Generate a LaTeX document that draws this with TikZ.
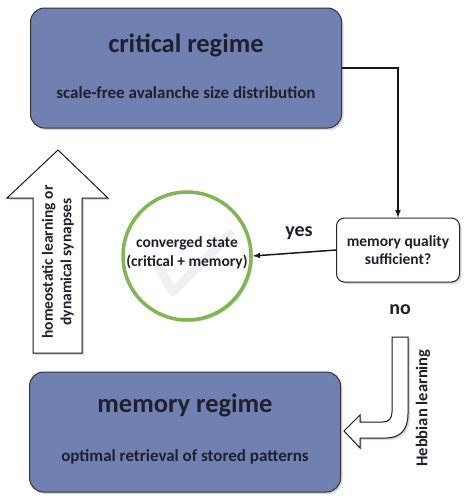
\documentclass[tikz,border=0pt]{standalone}
\usepackage{fontspec}
\setmainfont{Carlito}
\usetikzlibrary{shadows}
\definecolor{regimeblue}{RGB}{112,128,176}
\definecolor{textdark}{RGB}{32,32,45}
\definecolor{convgreen}{RGB}{128,182,78}

\begin{document}
\begin{tikzpicture}[x=1pt,y=-1pt,font=\bfseries,text=textdark,
  softshadow/.style={drop shadow={opacity=0.3,shadow xshift=2pt,shadow yshift=-2pt}},
  regimebox/.style={draw=black!80,line width=1pt,fill=regimeblue,rounded corners=14pt,
    minimum width=311pt,minimum height=120pt,softshadow},
  regimetitle/.style={font=\fontsize{26.5}{30}\selectfont\bfseries},
  regimetext/.style={font=\fontsize{17}{20}\selectfont\bfseries},
  smalltext/.style={font=\fontsize{15.5}{18.5}\selectfont\bfseries,align=center},
  flow/.style={-latex,line width=1.5pt,black!90},
  bigarrow/.style={draw=black!90,line width=1pt,fill=white,softshadow}]
\useasboundingbox (0,0) rectangle (474,504);

\node[regimebox] (crit) at (186,68) {};
\node[regimetitle] (crittitle) at (186,45) {critical regime};
\node[regimetext] (crittext) at (186,93) {scale-free avalanche size distribution};

\node[regimebox] (mem) at (185,432) {};
\node[regimetitle] (memtitle) at (185,405) {memory regime};
\node[regimetext] (memtext) at (185,457) {optimal retrieval of stored patterns};

\node[draw=black!85,line width=1pt,fill=white,rounded corners=8pt,minimum width=123pt,
  minimum height=64pt,softshadow,smalltext] (quality) at (398,250)
  {memory quality\\sufficient?};

\node[circle,draw=convgreen,line width=3.5pt,fill=white,minimum size=128pt,softshadow] (conv) at (187,256) {};
\draw[black!6,line width=9pt,line cap=round,line join=round] (158,266) -- (173,292) -- (230,234);
\node[smalltext] (convtext) at (187,253) {converged state\\(critical + memory)};

\draw[flow] (crit.east) -| (quality.north);
\draw[flow] (quality.west) -- (conv.east);
\node[font=\fontsize{20}{24}\selectfont\bfseries] (yes) at (299,233) {yes};
\node[font=\fontsize{20}{24}\selectfont\bfseries] (no) at (400,310) {no};

\draw[bigarrow] (58,150) -- (108,198) -- (82,198) -- (82,353) -- (33,353) -- (33,198) -- (7,198) -- cycle;
\node[smalltext,rotate=90] (homeo) at (58,262) {homeostatic learning or\\dynamical synapses};

\draw[bigarrow] (392,337) -- (408,337) -- (408,414) .. controls (408,430) and (400,438) .. (386,438)
  -- (360,438) -- (360,448) -- (344,431) -- (360,415) -- (360,422) -- (383,422)
  .. controls (389,422) and (392,418) .. (392,412) -- cycle;
\node[smalltext,rotate=90,font=\fontsize{16.5}{20}\selectfont\bfseries] (hebb) at (423,408) {Hebbian learning};
\end{tikzpicture}
\end{document}
